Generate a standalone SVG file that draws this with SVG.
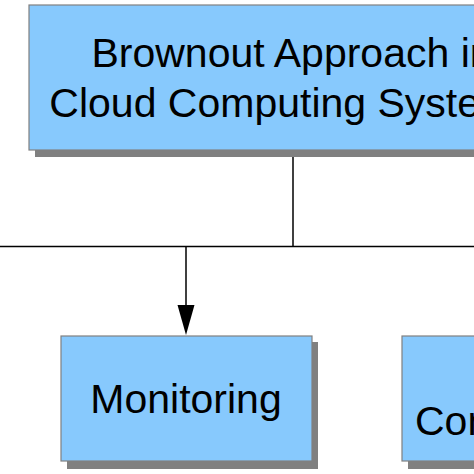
<svg xmlns="http://www.w3.org/2000/svg" width="474" height="474" viewBox="0 0 474 474">
<style>
.box{fill:#87c9fd;stroke:#808080;stroke-width:1.2}
.sh{fill:#808080}
.t{font-family:"Liberation Sans",Arial,sans-serif;font-size:41px;fill:#000}
.ln{stroke:#000;stroke-width:1.5;fill:none}
</style>
<defs>
<marker id="ah" markerWidth="18" markerHeight="30" refX="9" refY="29" orient="auto-start-reverse" markerUnits="userSpaceOnUse" viewBox="0 0 18 30">
<path d="M0,0 L18,0 L9,30 Z" fill="#000" transform="rotate(0)"/>
</marker>
</defs>
<rect width="474" height="474" fill="#fff"/>
<g id="connectors">
<line class="ln" x1="293" y1="150" x2="293" y2="246.5"/>
<line class="ln" x1="0" y1="246.5" x2="474" y2="246.5"/>
<line class="ln" x1="186" y1="246.5" x2="186" y2="306"/>
<path d="M177.5,305 L194.5,305 L186,335 Z" fill="#000"/>
</g>
<g id="node-root">
<rect class="sh" x="35" y="11" width="540" height="146"/>
<rect class="box" x="29" y="5" width="540" height="145"/>
<text class="t" x="292" y="67" text-anchor="middle">Brownout Approach in</text>
<text class="t" x="292" y="117" text-anchor="middle">Cloud Computing Systems</text>
</g>
<g id="node-monitoring">
<rect class="sh" x="67" y="342" width="251" height="127"/>
<rect class="box" x="61" y="336" width="251" height="125"/>
<text class="t" x="186" y="413" text-anchor="middle">Monitoring</text>
</g>
<g id="node-con">
<rect class="sh" x="408" y="342" width="120" height="127"/>
<rect class="box" x="402" y="336" width="120" height="125"/>
<text class="t" x="415" y="435">Con</text>
</g>
</svg>
